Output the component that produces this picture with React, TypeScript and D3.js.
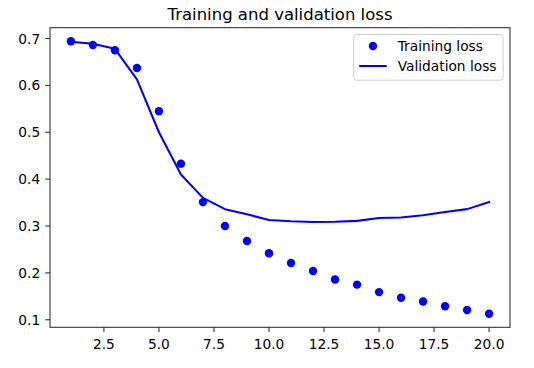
import React from "react";
import * as d3 from "d3";

const epochs = [1, 2, 3, 4, 5, 6, 7, 8, 9, 10, 11, 12, 13, 14, 15, 16, 17, 18, 19, 20];
const trainingLoss = [0.694, 0.686, 0.675, 0.637, 0.545, 0.433, 0.351, 0.300, 0.268, 0.242, 0.221, 0.204, 0.186, 0.175, 0.159, 0.147, 0.139, 0.129, 0.121, 0.113];
const validationLoss = [0.693, 0.689, 0.678, 0.613, 0.500, 0.410, 0.360, 0.336, 0.325, 0.313, 0.310, 0.3085, 0.309, 0.311, 0.317, 0.318, 0.323, 0.330, 0.336, 0.351];
const xTicks = [2.5, 5, 7.5, 10, 12.5, 15, 17.5, 20];
const yTicks = [0.1, 0.2, 0.3, 0.4, 0.5, 0.6, 0.7];
const title = "Training and validation loss";
const legendLabels = ["Training loss", "Validation loss"];

const W = 534;
const H = 368;
const L = 50, R = 510, T = 27.7, B = 327.3;
const FONT = "DejaVu Sans, sans-serif";
const FS = 13.75;

export default function App() {
  const xmin = d3.min(epochs)!, xmax = d3.max(epochs)!;
  const xm = (xmax - xmin) * 0.05;
  const all = trainingLoss.concat(validationLoss);
  const ymin = d3.min(all)!, ymax = d3.max(all)!;
  const ym = (ymax - ymin) * 0.05;
  const x = d3.scaleLinear().domain([xmin - xm, xmax + xm]).range([L, R]);
  const y = d3.scaleLinear().domain([ymin - ym, ymax + ym]).range([B, T]);
  const line = d3
    .line<number>()
    .x((_, i) => x(epochs[i]))
    .y((d) => y(d));

  const legR = R - 6.9;
  const legW = 149.4;
  const legL = legR - legW;

  return (
    <svg
      width={W}
      height={H}
      style={{ position: "absolute", left: 0, top: 0, background: "#fff" }}
      fontFamily={FONT}
    >
      <rect x={0} y={0} width={W} height={H} fill="#fff" />
      <text x={(L + R) / 2} y={19.8} textAnchor="middle" fontSize={16.5} fill="#000">
        {title}
      </text>
      <path d={line(validationLoss) || ""} fill="none" stroke="#0000ff" strokeWidth={2.06} strokeLinejoin="round" strokeLinecap="square" />
      {trainingLoss.map((v, i) => (
        <circle key={i} cx={x(epochs[i])} cy={y(v)} r={4.2} fill="#0000ff" />
      ))}
      <rect x={L} y={T} width={R - L} height={B - T} fill="none" stroke="#333" strokeWidth={1.1} />
      {xTicks.map((t) => (
        <g key={"x" + t}>
          <line x1={x(t)} x2={x(t)} y1={B} y2={B + 4.8} stroke="#333" strokeWidth={1.1} />
          <text x={x(t)} y={348.6} textAnchor="middle" fontSize={FS} fill="#000">
            {d3.format(".1f")(t)}
          </text>
        </g>
      ))}
      {yTicks.map((t) => (
        <g key={"y" + t}>
          <line x1={L - 4.8} x2={L} y1={y(t)} y2={y(t)} stroke="#333" strokeWidth={1.1} />
          <text x={40.2} y={y(t) + 5} textAnchor="end" fontSize={FS} fill="#000">
            {d3.format(".1f")(t)}
          </text>
        </g>
      ))}
      <g>
        <rect x={legL} y={34.6} width={legW} height={45.6} rx={3} fill="#fff" fillOpacity={0.8} stroke="#cccccc" strokeWidth={1} />
        <circle cx={legL + 5.5 + 13.75} cy={46} r={4.2} fill="#0000ff" />
        <line x1={legL + 5.5} x2={legL + 5.5 + 27.5} y1={66} y2={66} stroke="#0000ff" strokeWidth={2.06} />
        <text x={legL + 44} y={50.8} fontSize={FS} fill="#000">{legendLabels[0]}</text>
        <text x={legL + 44} y={70.8} fontSize={FS} fill="#000">{legendLabels[1]}</text>
      </g>
    </svg>
  );
}
